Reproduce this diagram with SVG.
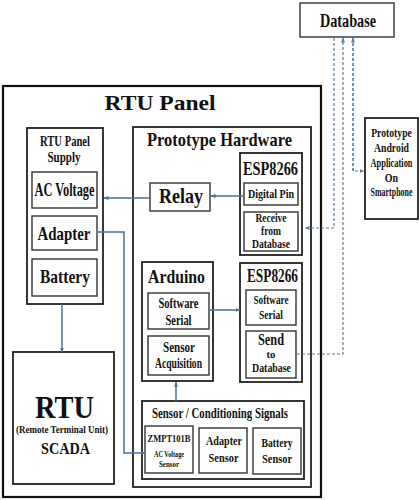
<svg xmlns="http://www.w3.org/2000/svg" width="420" height="500" viewBox="0 0 420 500">
<defs>
<marker id="ah" viewBox="0 0 10 10" refX="9" refY="5" markerWidth="5" markerHeight="5" orient="auto" markerUnits="userSpaceOnUse">
<path d="M0,1 L10,5 L0,9 Z" fill="#4a7092"/>
</marker>
<marker id="ahd" viewBox="0 0 10 10" refX="9" refY="5" markerWidth="5" markerHeight="5" orient="auto" markerUnits="userSpaceOnUse">
<path d="M0,1 L10,5 L0,9 Z" fill="#5a7fa2"/>
</marker>
<style>
text{font-family:"Liberation Serif","Times New Roman",serif;font-weight:bold;fill:#111;text-anchor:middle}
.big{fill:none;stroke:#111;stroke-width:2.2}
.mid{fill:none;stroke:#222;stroke-width:1.8}
.in{fill:none;stroke:#333;stroke-width:1.4}
.c{fill:none;stroke:#4a7092;stroke-width:1.5}
.d{fill:none;stroke:#5a7fa2;stroke-width:1.2;stroke-dasharray:3 2}
</style>
</defs>
<rect width="420" height="500" fill="#fff"/>

<g id="database">
<rect class="in" x="300" y="3" width="94" height="34"/>
<text x="348" y="27" font-size="18" textLength="56" lengthAdjust="spacingAndGlyphs">Database</text>
</g>

<g id="android-app">
<rect class="mid" x="365" y="118" width="53" height="101"/>
<g transform="translate(391.5,0) scale(0.7,1)">
<text font-size="13"><tspan x="0" y="137" textLength="58" lengthAdjust="spacingAndGlyphs">Prototype</tspan><tspan x="0" y="152" textLength="50" lengthAdjust="spacingAndGlyphs">Android</tspan><tspan x="0" y="167" textLength="60" lengthAdjust="spacingAndGlyphs">Application</tspan><tspan x="0" y="182" textLength="19" lengthAdjust="spacingAndGlyphs">On</tspan><tspan x="0" y="196" textLength="60" lengthAdjust="spacingAndGlyphs">Smartphone</tspan></text>
</g>
</g>

<g id="rtu-panel">
<rect class="big" x="3" y="86" width="318" height="411"/>
<text x="160" y="110" font-size="21" textLength="111" lengthAdjust="spacingAndGlyphs">RTU Panel</text>
</g>

<g id="rtu-panel-supply">
<rect class="mid" x="27" y="128" width="76" height="176"/>
<text font-size="14"><tspan x="65" y="146" textLength="50" lengthAdjust="spacingAndGlyphs">RTU Panel</tspan><tspan x="64" y="162" textLength="33" lengthAdjust="spacingAndGlyphs">Supply</tspan></text>
</g>
<g id="ac-voltage">
<rect class="in" x="32" y="172" width="65" height="36"/>
<text x="64.5" y="196" font-size="18" textLength="60" lengthAdjust="spacingAndGlyphs">AC Voltage</text>
</g>
<g id="adapter">
<rect class="in" x="32" y="216" width="65" height="34"/>
<text x="64" y="240" font-size="19" textLength="53" lengthAdjust="spacingAndGlyphs">Adapter</text>
</g>
<g id="battery">
<rect class="in" x="32" y="259" width="65" height="37"/>
<text x="65" y="283" font-size="19" textLength="50" lengthAdjust="spacingAndGlyphs">Battery</text>
</g>

<g id="rtu">
<rect class="mid" x="13" y="352" width="101" height="132"/>
<text x="64.5" y="418" font-size="32" textLength="59" lengthAdjust="spacingAndGlyphs">RTU</text>
<text x="62" y="433" font-size="9.5" textLength="92" lengthAdjust="spacingAndGlyphs">(Remote Terminal Unit)</text>
<text x="65.5" y="454" font-size="17" textLength="49" lengthAdjust="spacingAndGlyphs">SCADA</text>
</g>

<g id="prototype-hardware">
<rect class="mid" x="133" y="127" width="178" height="360"/>
<text x="219.5" y="146" font-size="19" textLength="145" lengthAdjust="spacingAndGlyphs">Prototype Hardware</text>
</g>

<g id="relay">
<rect class="in" x="150" y="183" width="60" height="28"/>
<text x="181" y="203" font-size="21" textLength="44" lengthAdjust="spacingAndGlyphs">Relay</text>
</g>

<g id="esp8266-top">
<rect class="mid" x="240" y="153" width="62" height="102"/>
<text x="270.5" y="175" font-size="18" textLength="55" lengthAdjust="spacingAndGlyphs">ESP8266</text>
</g>
<g id="digital-pin">
<rect class="in" x="244" y="183" width="54" height="22"/>
<text x="271" y="198" font-size="12.5" textLength="46" lengthAdjust="spacingAndGlyphs">Digital Pin</text>
</g>
<g id="receive-from-database">
<rect class="in" x="244" y="212" width="54" height="39"/>
<text font-size="12.5"><tspan x="271" y="222" textLength="31" lengthAdjust="spacingAndGlyphs">Receive</tspan><tspan x="271" y="235" textLength="20" lengthAdjust="spacingAndGlyphs">from</tspan><tspan x="271" y="248" textLength="38" lengthAdjust="spacingAndGlyphs">Database</tspan></text>
</g>

<g id="arduino">
<rect class="mid" x="142" y="262" width="71" height="119"/>
<text x="176.5" y="283" font-size="19.5" textLength="57" lengthAdjust="spacingAndGlyphs">Arduino</text>
</g>
<g id="arduino-software-serial">
<rect class="in" x="148" y="293" width="61" height="36"/>
<text font-size="14"><tspan x="178.5" y="308" textLength="40" lengthAdjust="spacingAndGlyphs">Software</tspan><tspan x="178.5" y="325" textLength="26" lengthAdjust="spacingAndGlyphs">Serial</tspan></text>
</g>
<g id="sensor-acquisition">
<rect class="in" x="148" y="336" width="61" height="39"/>
<text font-size="14"><tspan x="179" y="352" textLength="32" lengthAdjust="spacingAndGlyphs">Sensor</tspan><tspan x="178.5" y="368" textLength="47" lengthAdjust="spacingAndGlyphs">Acquisition</tspan></text>
</g>

<g id="esp8266-bottom">
<rect class="mid" x="240" y="263" width="62" height="119"/>
<text x="272.5" y="282" font-size="18" textLength="51" lengthAdjust="spacingAndGlyphs">ESP8266</text>
</g>
<g id="esp-software-serial">
<rect class="in" x="246" y="290" width="50" height="35"/>
<text font-size="13"><tspan x="271" y="304" textLength="35" lengthAdjust="spacingAndGlyphs">Software</tspan><tspan x="271" y="319" textLength="24" lengthAdjust="spacingAndGlyphs">Serial</tspan></text>
</g>
<g id="send-to-database">
<rect class="in" x="246" y="331" width="50" height="47"/>
<text x="271" y="345" font-size="16" textLength="26" lengthAdjust="spacingAndGlyphs">Send</text>
<text x="271" y="358" font-size="11" textLength="9" lengthAdjust="spacingAndGlyphs">to</text>
<text x="271.5" y="372" font-size="13" textLength="39" lengthAdjust="spacingAndGlyphs">Database</text>
</g>

<g id="sensor-conditioning">
<rect class="mid" x="142" y="401" width="162" height="78"/>
<text x="220" y="418" font-size="15" textLength="136" lengthAdjust="spacingAndGlyphs">Sensor / Conditioning Signals</text>
</g>
<g id="zmpt101b">
<rect class="in" x="145" y="426" width="48" height="47"/>
<text x="169" y="442" font-size="11" textLength="43" lengthAdjust="spacingAndGlyphs">ZMPT101B</text>
<text font-size="7.5"><tspan x="169" y="457" textLength="30" lengthAdjust="spacingAndGlyphs">AC Voltage</tspan><tspan x="169" y="467" textLength="20" lengthAdjust="spacingAndGlyphs">Sensor</tspan></text>
</g>
<g id="adapter-sensor">
<rect class="in" x="199" y="428" width="48" height="45"/>
<text font-size="13.5"><tspan x="224" y="445" textLength="36" lengthAdjust="spacingAndGlyphs">Adapter</tspan><tspan x="223.5" y="462" textLength="30" lengthAdjust="spacingAndGlyphs">Sensor</tspan></text>
</g>
<g id="battery-sensor">
<rect class="in" x="253" y="428" width="48" height="46"/>
<text font-size="13.5"><tspan x="277" y="447" textLength="31" lengthAdjust="spacingAndGlyphs">Battery</tspan><tspan x="277" y="463" textLength="30" lengthAdjust="spacingAndGlyphs">Sensor</tspan></text>
</g>

<g id="connectors">
<path class="c" d="M150,198 H104" marker-end="url(#ah)"/>
<path class="c" d="M244,196 H211" marker-end="url(#ah)"/>
<path class="c" d="M209,310 H240" marker-end="url(#ah)"/>
<path class="c" d="M176,401 V382" marker-end="url(#ah)"/>
<path class="c" d="M62,304 V352" marker-end="url(#ah)"/>
<path class="c" d="M97,232 H124 V453 H145" marker-end="url(#ah)"/>
<path class="d" d="M334,38 V228 H305" marker-end="url(#ahd)"/>
<path class="d" d="M297,354 H343 V38" marker-end="url(#ahd)"/>
<path class="d" d="M353,38 V171 H364" marker-end="url(#ahd)"/>
<path class="d" d="M353,171 V38" marker-end="url(#ahd)"/>
</g>
</svg>
